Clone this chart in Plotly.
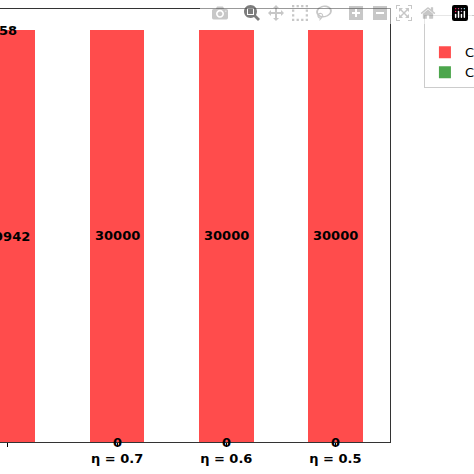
import plotly.graph_objects as go

categories = ["η = 0.8", "η = 0.7", "η = 0.6", "η = 0.5"]
red_values = [29942, 30000, 30000, 30000]
green_values = [58, 0, 0, 0]
red_name = "Correct"
green_name = "Collision"

x = list(range(len(categories)))
fig = go.Figure()
fig.add_bar(x=x, y=red_values, name=red_name, width=0.5,
            marker=dict(color="rgba(255,0,0,0.7)", line=dict(width=0)))
fig.add_bar(x=x, y=green_values, name=green_name, width=0.5,
            marker=dict(color="rgba(0,128,0,0.7)", line=dict(width=0)))

font = dict(family="DejaVu Sans", size=13, color="black")
for i in x:
    fig.add_annotation(x=i, y=red_values[i] / 2, text=f"<b>{red_values[i]}</b>",
                       showarrow=False, font=font)
    gy = red_values[i] + green_values[i] / 2 if green_values[i] > 0 else 0
    fig.add_annotation(x=i, y=gy, text=f"<b>{green_values[i]}</b>",
                       showarrow=False, font=font)

fig.update_layout(
    barmode="stack", width=474, height=474,
    paper_bgcolor="white", plot_bgcolor="white",
    margin=dict(l=0, r=84, t=9, b=32, autoexpand=False),
    showlegend=True,
    legend=dict(x=1.087, y=0.985, xanchor="left", yanchor="top",
                traceorder="normal", itemwidth=30,
                bordercolor="#cccccc", borderwidth=1,
                title=dict(text=" "),
                font=dict(family="DejaVu Sans", size=13)),
    font=dict(family="DejaVu Sans", size=13, color="black"),
)
fig.update_xaxes(range=[-0.073, 3.5], tickvals=x,
                 ticktext=[f"<b>{c}</b>" for c in categories],
                 ticks="outside", ticklen=4, tickcolor="black",
                 showline=True, linecolor="#333", linewidth=1, mirror=True,
                 showgrid=False, zeroline=False)
fig.update_yaxes(range=[0, 31500], showticklabels=False, ticks="",
                 showline=True, linecolor="#333", linewidth=1, mirror=True,
                 showgrid=False, zeroline=False)
fig.write_html("out.html")

with open("out.html", encoding="utf-8") as f:
    html = f.read()
html = html.replace("<body>", '<body style="margin:0;overflow:hidden">', 1)
with open("out.html", "w", encoding="utf-8") as f:
    f.write(html)
